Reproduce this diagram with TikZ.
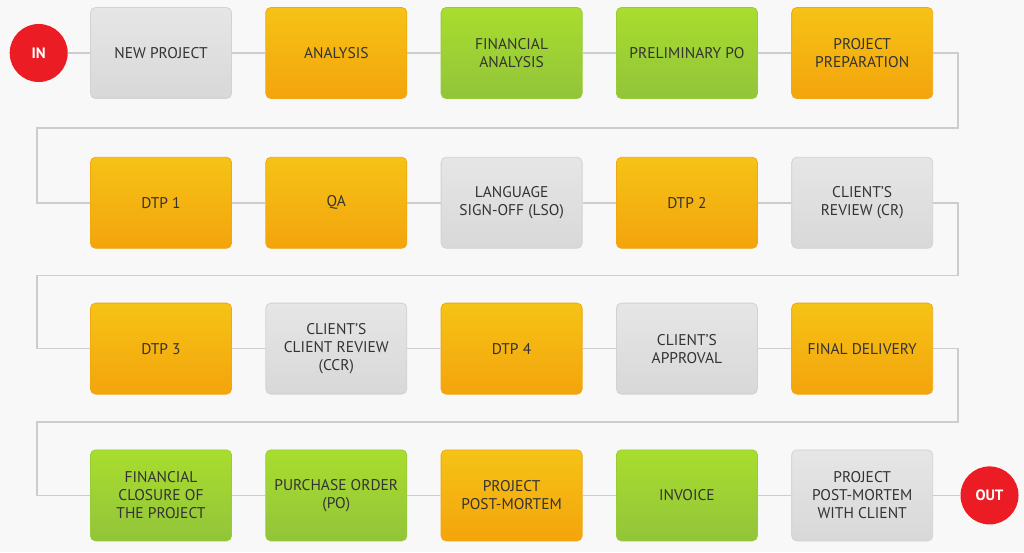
\documentclass[tikz,border=0pt]{standalone}
\usepackage{fontspec}
\setmainfont{PT Sans}
\usepackage{tikz}
\usetikzlibrary{shapes, positioning, calc}
\usepackage{xcolor}

\definecolor{bggrey}{HTML}{F8F8F8}
\definecolor{linegrey}{HTML}{CDCDCD}
\definecolor{textgrey}{HTML}{333333}
\definecolor{greytop}{HTML}{E6E6E6}
\definecolor{greybot}{HTML}{D8D8D8}
\definecolor{greyedge}{HTML}{D2D2D2}
\definecolor{orangetop}{HTML}{F5C316}
\definecolor{orangebot}{HTML}{F4A40C}
\definecolor{orangeedge}{HTML}{EFA812}
\definecolor{greentop}{HTML}{A9DD2E}
\definecolor{greenbot}{HTML}{92C43A}
\definecolor{greenedge}{HTML}{98CC34}
\definecolor{inred}{HTML}{EC1C24}

\begin{document}
\begin{tikzpicture}[node distance=33.5pt, thick]
        % Define block styles
        \tikzstyle{box} = [rectangle, rounded corners=5pt, minimum width=141pt, minimum height=91pt, align=center, text=textgrey, line width=0.8pt, font=\fontsize{15.5}{18}\selectfont]
        \tikzstyle{greynode} = [box, draw=greyedge, top color=greytop, bottom color=greybot]
        \tikzstyle{orangenode} = [box, draw=orangeedge, top color=orangetop, bottom color=orangebot]
        \tikzstyle{greennode} = [box, draw=greenedge, top color=greentop, bottom color=greenbot]
        \tikzstyle{roundnode} = [circle, fill=inred, minimum size=58pt, inner sep=0pt, text=white, font=\fontsize{15}{18}\selectfont\bfseries]
        \tikzstyle{line} = [draw=linegrey, line width=1.4pt]

        % Background and margins
        \fill[bggrey] (0,0) rectangle (1024pt,-552pt);
        \useasboundingbox (0,0) rectangle (1024pt,-552pt);

        % Define nodes
        \node [greynode] (np) at (161pt,-53pt) {NEW PROJECT};
        \node [roundnode, left=22pt of np] (in) {IN};
        \node [orangenode, right=of np] (an) {ANALYSIS};
        \node [greennode, right=of an] (fa) {FINANCIAL\\ANALYSIS};
        \node [greennode, right=of fa] (po) {PRELIMINARY PO};
        \node [orangenode, right=of po] (pp) {PROJECT\\PREPARATION};

        \node [orangenode, below=58pt of np] (dtpa) {DTP 1};
        \node [orangenode, right=of dtpa] (qa) {QA};
        \node [greynode, right=of qa] (lso) {LANGUAGE\\SIGN-OFF (LSO)};
        \node [orangenode, right=of lso] (dtpb) {DTP 2};
        \node [greynode, right=of dtpb] (cr) {CLIENT’S\\REVIEW (CR)};

        \node [orangenode, below=54pt of dtpa] (dtpc) {DTP 3};
        \node [greynode, right=of dtpc] (ccr) {CLIENT’S\\CLIENT REVIEW\\(CCR)};
        \node [orangenode, right=of ccr] (dtpd) {DTP 4};
        \node [greynode, right=of dtpd] (ap) {CLIENT’S\\APPROVAL};
        \node [orangenode, right=of ap] (fd) {FINAL DELIVERY};

        \node [greennode, below=55pt of dtpc] (fc) {FINANCIAL\\CLOSURE OF\\THE PROJECT};
        \node [greennode, right=of fc] (pord) {PURCHASE ORDER\\(PO)};
        \node [orangenode, right=of pord] (pm) {PROJECT\\POST-MORTEM};
        \node [greennode, right=of pm] (inv) {INVOICE};
        \node [greynode, right=of inv] (pmc) {PROJECT\\POST-MORTEM\\WITH CLIENT};
        \node [roundnode, right=27pt of pmc] (out) {OUT};

        % Connect nodes with paths
        \path [line] (in) -- (np);
        \path [line] (np) -- (an);
        \path [line] (an) -- (fa);
        \path [line] (fa) -- (po);
        \path [line] (po) -- (pp);
        \path [line] (pp.east) -- ++(25pt,0) |- ($(pp.south)!.5!(cr.north)$) -| ([xshift=-53pt]dtpa.west) -- (dtpa.west);
        \path [line] (dtpa) -- (qa);
        \path [line] (qa) -- (lso);
        \path [line] (lso) -- (dtpb);
        \path [line] (dtpb) -- (cr);
        \path [line] (cr.east) -- ++(25pt,0) |- ($(cr.south)!.5!(fd.north)$) -| ([xshift=-53pt]dtpc.west) -- (dtpc.west);
        \path [line] (dtpc) -- (ccr);
        \path [line] (ccr) -- (dtpd);
        \path [line] (dtpd) -- (ap);
        \path [line] (ap) -- (fd);
        \path [line] (fd.east) -- ++(25pt,0) |- ($(fd.south)!.5!(pmc.north)$) -| ([xshift=-53pt]fc.west) -- (fc.west);
        \path [line] (fc) -- (pord);
        \path [line] (pord) -- (pm);
        \path [line] (pm) -- (inv);
        \path [line] (inv) -- (pmc);
        \path [line] (pmc) -- (out);

\end{tikzpicture}
\end{document}
